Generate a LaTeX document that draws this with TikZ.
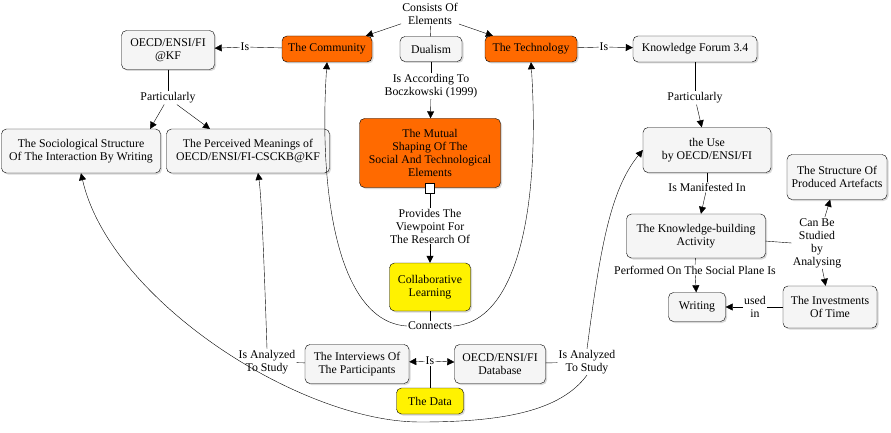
\documentclass[tikz,border=0pt]{standalone}
\usepackage{fontspec}
\setmainfont{Liberation Serif}
\usetikzlibrary{arrows.meta,shadows}
\definecolor{org}{HTML}{FF6A00}
\begin{document}
\begin{tikzpicture}[x=1pt,y=-1pt,font=\fontsize{11.8}{13}\selectfont,
 box/.style={draw,rounded corners=5pt,fill=gray!8,align=center,drop shadow={shadow xshift=1.5pt,shadow yshift=-1.5pt,fill=gray!60},inner sep=3pt},
 obox/.style={box,fill=org},
 ybox/.style={box,fill=yellow},
 lab/.style={align=center,fill=white,inner sep=1pt},
 ar/.style={-{Triangle[length=7pt,width=7pt]}}]
\useasboundingbox (0,0) rectangle (891,433);
\node[box,minimum width=62,minimum height=25] (dual) at (431,49) {Dualism};
\node[obox,minimum width=90,minimum height=26] (comm) at (327,49) {The Community};
\node[obox,minimum width=92,minimum height=26] (tech) at (531,49) {The Technology};
\node[box,minimum width=93,minimum height=39] (okf) at (168,50) {OECD/ENSI/FI\\@KF};
\node[box,minimum width=124,minimum height=26] (kf) at (695,49) {Knowledge Forum 3.4};
\node[obox,minimum width=141,minimum height=69] (mut) at (430,153) {The Mutual\\Shaping Of The\\Social And Technological\\Elements};
\node[draw,fill=white,minimum width=9,minimum height=10,inner sep=0] (icon) at (430,188) {};
\node[ybox,minimum width=81,minimum height=48] (coll) at (430,287) {Collaborative\\Learning};
\node[box,minimum width=159,minimum height=44] (soc) at (81,151) {The Sociological Structure\\Of The Interaction By Writing};
\node[box,minimum width=163,minimum height=44] (per) at (248,151) {The Perceived Meanings of\\OECD/ENSI/FI-CSCKB@KF};
\node[box,minimum width=128,minimum height=45] (use) at (707,150) {the Use\\by OECD/ENSI/FI};
\node[box,minimum width=139,minimum height=44] (kba) at (696,236) {The Knowledge-building\\Activity};
\node[box,minimum width=100,minimum height=45] (spa) at (837,177) {The Structure Of\\Produced Artefacts};
\node[box,minimum width=94,minimum height=42] (inv) at (830,307) {The Investments\\Of Time};
\node[box,minimum width=57,minimum height=29] (wri) at (697,307) {Writing};
\node[box,minimum width=104,minimum height=39] (int) at (357,364) {The Interviews Of\\The Participants};
\node[box,minimum width=91,minimum height=39] (db) at (500,364) {OECD/ENSI/FI\\Database};
\node[ybox,minimum width=67,minimum height=26] (data) at (430,401) {The Data};
\coordinate (socT) at (150,129);
\coordinate (perT) at (210,129);
\coordinate (perB) at (258,173);
\coordinate (low) at (420,422);
% labels
\node[lab] (lcons) at (430,14) {Consists Of\\Elements};
\node[lab] (lis1) at (245,47) {Is};
\node[lab] (lis2) at (604,47) {Is};
\node[lab] (lacc) at (431,86) {Is According To\\Boczkowski (1999)};
\node[lab] (lprov) at (430,226) {Provides The\\Viewpoint For\\The Research Of};
\node[lab] (lconn) at (430,326) {Connects};
\node[lab] (lpar1) at (168,98) {Particularly};
\node[lab] (lpar2) at (695,98) {Particularly};
\node[lab] (lman) at (707,187) {Is Manifested In};
\node[lab] (lcan) at (817,243) {Can Be\\Studied\\by\\Analysing};
\node[lab] (lperf) at (695,270) {Performed On The Social Plane Is};
\node[lab] (lused) at (755,307) {used\\in};
\node[lab] (lis3) at (430,361) {Is};
\node[lab] (lan1) at (267,362) {Is Analyzed\\To Study};
\node[lab] (lan2) at (587,362) {Is Analyzed\\To Study};
% connectors
\draw (dual) -- (lcons);
\draw[ar] (lcons) -- (comm);
\draw[ar] (lcons) -- (tech);
\draw (comm) -- (lis1); \draw[ar] (lis1) -- (okf);
\draw (tech) -- (lis2); \draw[ar] (lis2) -- (kf);
\draw (dual) -- (lacc); \draw[ar] (lacc) -- (mut);
\draw (icon) -- (lprov); \draw[ar] (lprov) -- (coll);
\draw (coll) -- (lconn);
\draw[ar] (lconn.west) .. controls (340,322) and (318,200) .. (comm.south);
\draw[ar] (lconn.east) .. controls (520,322) and (540,200) .. (tech.south);
\draw (okf) -- (lpar1); \draw[ar] (lpar1) -- (socT); \draw[ar] (lpar1) -- (perT);
\draw (kf) -- (lpar2); \draw[ar] (lpar2) -- (use);
\draw (use) -- (lman); \draw[ar] (lman) -- (kba);
\draw (kba) -- (lcan.west); \draw[ar] (lcan) -- (spa); \draw[ar] (lcan) -- (inv);
\draw (kba) -- (lperf); \draw[ar] (lperf) -- (wri);
\draw (inv) -- (lused); \draw[ar] (lused) -- (wri);
\draw (data) -- (lis3); \draw[ar] (lis3) -- (int); \draw[ar] (lis3) -- (db);
\draw (int) -- (lan1); \draw[ar] (lan1.north) .. controls (265,290) and (262,200) .. (perB);
\draw (db) -- (lan2);
\draw[ar] (lan2.north) .. controls (600,250) and (610,190) .. (use.west);
\draw[ar] (lan2.south) .. controls (560,412) and (500,422) .. (low) .. controls (300,422) and (110,300) .. (soc.south);
\end{tikzpicture}
\end{document}
